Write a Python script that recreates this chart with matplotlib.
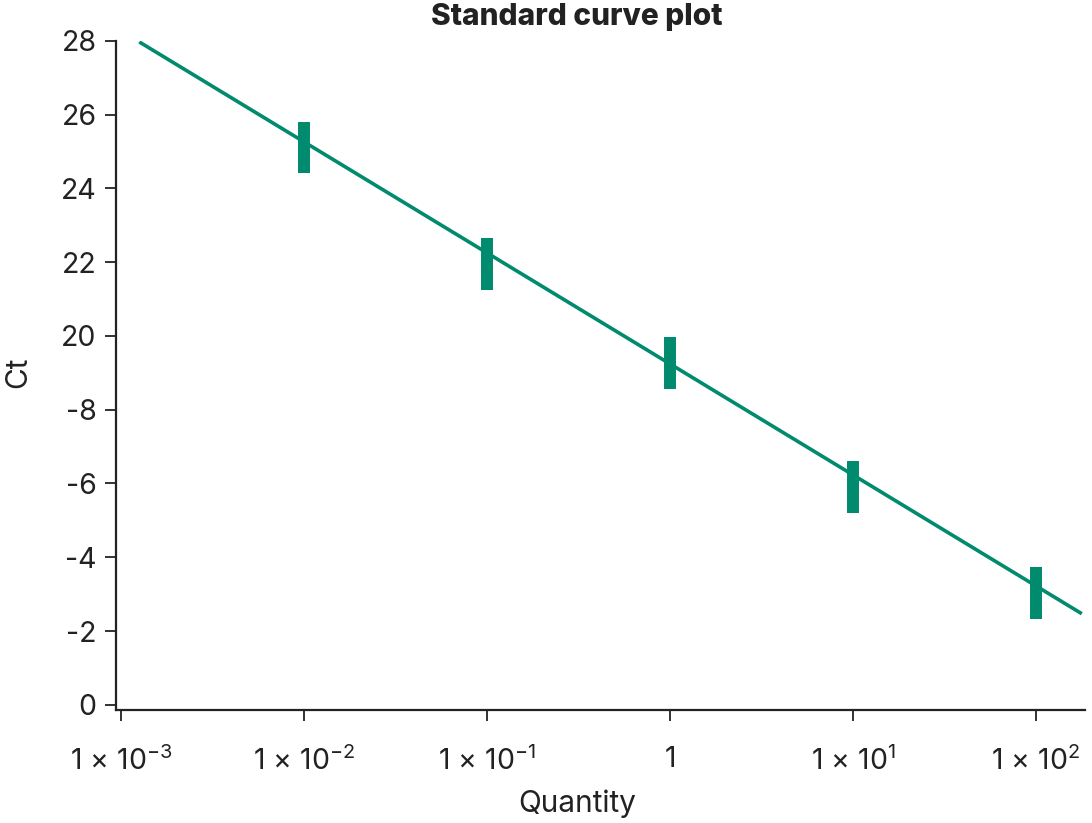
import matplotlib
matplotlib.use('Agg')
import matplotlib.pyplot as plt
import numpy as np

plt.rcParams['font.family'] = ['Inter', 'DejaVu Sans']
plt.rcParams['mathtext.fontset'] = 'custom'
plt.rcParams['mathtext.rm'] = 'Inter'
plt.rcParams['mathtext.it'] = 'Inter'

green = '#008a6e'
dark = '#222222'

# standards: quantity and Ct spread (low / high)
quantity = [1e-2, 1e-1, 1, 1e1, 1e2]
ct_low = [14.42, 11.25, 8.56, 5.20, 2.33]
ct_high = [15.80, 12.66, 9.97, 6.61, 3.74]

# fitted line endpoints
fit_x = [1.26e-3, 178]
fit_y = [17.97, 2.47]

xticks = [1e-3, 1e-2, 1e-1, 1, 1e1, 1e2]
xlabels = ['1 × 10$^{-3}$', '1 × 10$^{-2}$', '1 × 10$^{-1}$', '1',
           '1 × 10$^{1}$', '1 × 10$^{2}$']
yticks = [0, 2, 4, 6, 8, 10, 12, 14, 16, 18]
ylabels = ['0', '-2', '-4', '-6', '-8', '20', '22', '24', '26', '28']

fig = plt.figure(figsize=(10.92, 8.23), dpi=100)
ax = fig.add_axes([0.1062, 0.1373, 0.8874, 0.8131])

ax.plot(fit_x, fit_y, color=green, linewidth=2.6, solid_capstyle='butt')
ax.vlines(quantity, ct_low, ct_high, color=green, linewidth=8.6, capstyle='butt')

ax.set_xscale('log')
ax.set_xlim(10**-3.027, 10**2.268)
ax.set_ylim(-0.14, 18)
ax.set_xticks(xticks)
ax.set_xticklabels(xlabels)
ax.minorticks_off()
ax.set_yticks(yticks)
ax.set_yticklabels(ylabels)

for s in ['top', 'right']:
    ax.spines[s].set_visible(False)
for s in ['left', 'bottom']:
    ax.spines[s].set_linewidth(1.6)
    ax.spines[s].set_color(dark)
ax.spines['left'].set_bounds(-0.14, 18)

ax.tick_params(axis='both', colors=dark, labelsize=20.5, width=1.3, length=8,
               labelcolor=dark)
ax.tick_params(axis='x', pad=18)
ax.tick_params(axis='y', pad=6)

fig.text(577 / 1092, 1 - 17 / 823, 'Standard curve plot', ha='center', va='center',
         fontsize=21.5, fontweight='heavy', color=dark)
fig.text(577 / 1092, 1 - 804 / 823, 'Quantity', ha='center', va='center',
         fontsize=21.5, color=dark)
fig.text(18 / 1092, 1 - 372 / 823, 'Ct', ha='center', va='center',
         fontsize=21.5, color=dark, rotation=90)

fig.savefig('out.png', dpi=100)
